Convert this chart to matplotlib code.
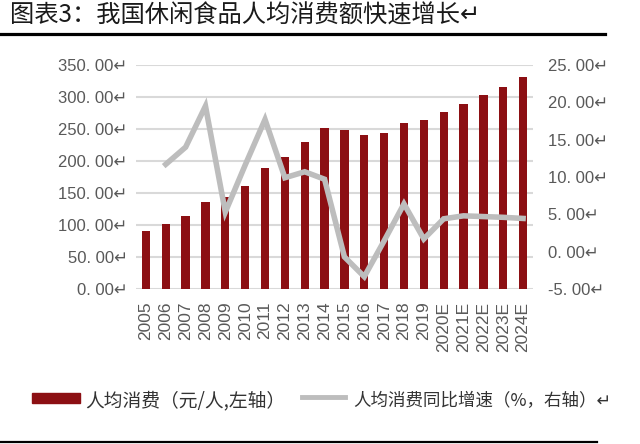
import matplotlib
matplotlib.use("Agg")
import matplotlib.pyplot as plt
from matplotlib.patches import Rectangle
from matplotlib.lines import Line2D
import numpy as np

years = ["2005", "2006", "2007", "2008", "2009", "2010", "2011", "2012", "2013", "2014",
         "2015", "2016", "2017", "2018", "2019", "2020E", "2021E", "2022E", "2023E", "2024E"]
per_capita = [90.5, 101, 114.5, 136, 143, 161.5, 189.5, 206.5, 229, 251,
              248, 240.5, 244, 260, 264.5, 276.5, 289.5, 302.5, 315.5, 330.5]
growth = [np.nan, 11.7, 14.0, 19.5, 5.3, 11.6, 17.7, 9.9, 10.7, 9.7,
          -0.7, -3.35, 1.45, 6.4, 1.7, 4.4, 4.8, 4.7, 4.6, 4.45]

left_ticks = [0, 50, 100, 150, 200, 250, 300, 350]
right_ticks = [-5, 0, 5, 10, 15, 20, 25]

title = "图表3：我国休闲食品人均消费额快速增长↵"
legend_bar = "人均消费（元/人,左轴）"
legend_line = "人均消费同比增速（%，右轴）↵"

W, H = 640, 444
fig = plt.figure(figsize=(W / 100, H / 100), dpi=100)
fig.patch.set_facecolor("white")

ax = fig.add_axes([136 / W, 1 - 289 / H, (533 - 136) / W, (289 - 65) / H])
x = np.arange(len(years))
bar_color = "#8C0F13"
line_color = "#BDBDBD"
tick_color = "#595959"
num_font = ["Liberation Sans", "DejaVu Sans"]
cjk_font = ["Noto Sans CJK SC", "DejaVu Sans"]

ax.bar(x, per_capita, width=0.42, color=bar_color, zorder=3)
ax.set_xlim(-0.5, len(years) - 0.5)
ax.set_ylim(0, 350)
ax.set_yticks(left_ticks)
ax.set_yticklabels([f"{v:.2f}".replace(".", ". ") + "↵" for v in left_ticks],
                   family=num_font, fontsize=12, color=tick_color)
ax.set_xticks(x)
ax.set_xticklabels(years, rotation=90, family=num_font, fontsize=12.5, color=tick_color)
ax.tick_params(axis="y", length=0, pad=6)
ax.tick_params(axis="x", length=0, pad=9)
ax.grid(axis="y", color="#D9D9D9", linewidth=1.5, zorder=0)
ax.set_axisbelow(True)
for s in ax.spines.values():
    s.set_visible(False)

ax2 = ax.twinx()
ax2.plot(x, growth, color=line_color, linewidth=4.0, zorder=4, solid_joinstyle="miter")
ax2.set_ylim(-5, 25)
ax2.set_yticks(right_ticks)
ax2.set_yticklabels([f"{v:.2f}".replace(".", ". ") + "↵" for v in right_ticks],
                    family=num_font, fontsize=12, color=tick_color)
ax2.tick_params(axis="y", length=0, pad=11)
for s in ax2.spines.values():
    s.set_visible(False)

# title and rules
fig.text(10 / W, 1 - 16 / H, title, family=cjk_font, fontsize=17.5, color="#1a1a1a",
         va="center", ha="left")
fig.add_artist(Line2D([0, 605 / W], [1 - 34.5 / H, 1 - 34.5 / H], color="black",
                      linewidth=2.3, transform=fig.transFigure))
fig.add_artist(Line2D([0, 597 / W], [1 - 442 / H, 1 - 442 / H], color="black",
                      linewidth=1.6, transform=fig.transFigure))

# legend
fig.add_artist(Rectangle((32 / W, 1 - 403 / H), 48 / W, 10 / H, color=bar_color,
                         transform=fig.transFigure))
fig.text(85 / W, 1 - 401 / H, legend_bar, family=cjk_font, fontsize=13.5,
         color="#333333", va="center", ha="left")
fig.add_artist(Line2D([302 / W, 345 / W], [1 - 397 / H, 1 - 397 / H], color=line_color,
                      linewidth=3.5, transform=fig.transFigure))
fig.text(353 / W, 1 - 401 / H, legend_line, family=cjk_font, fontsize=12.6,
         color="#333333", va="center", ha="left")

fig.savefig("out.png", dpi=100)
